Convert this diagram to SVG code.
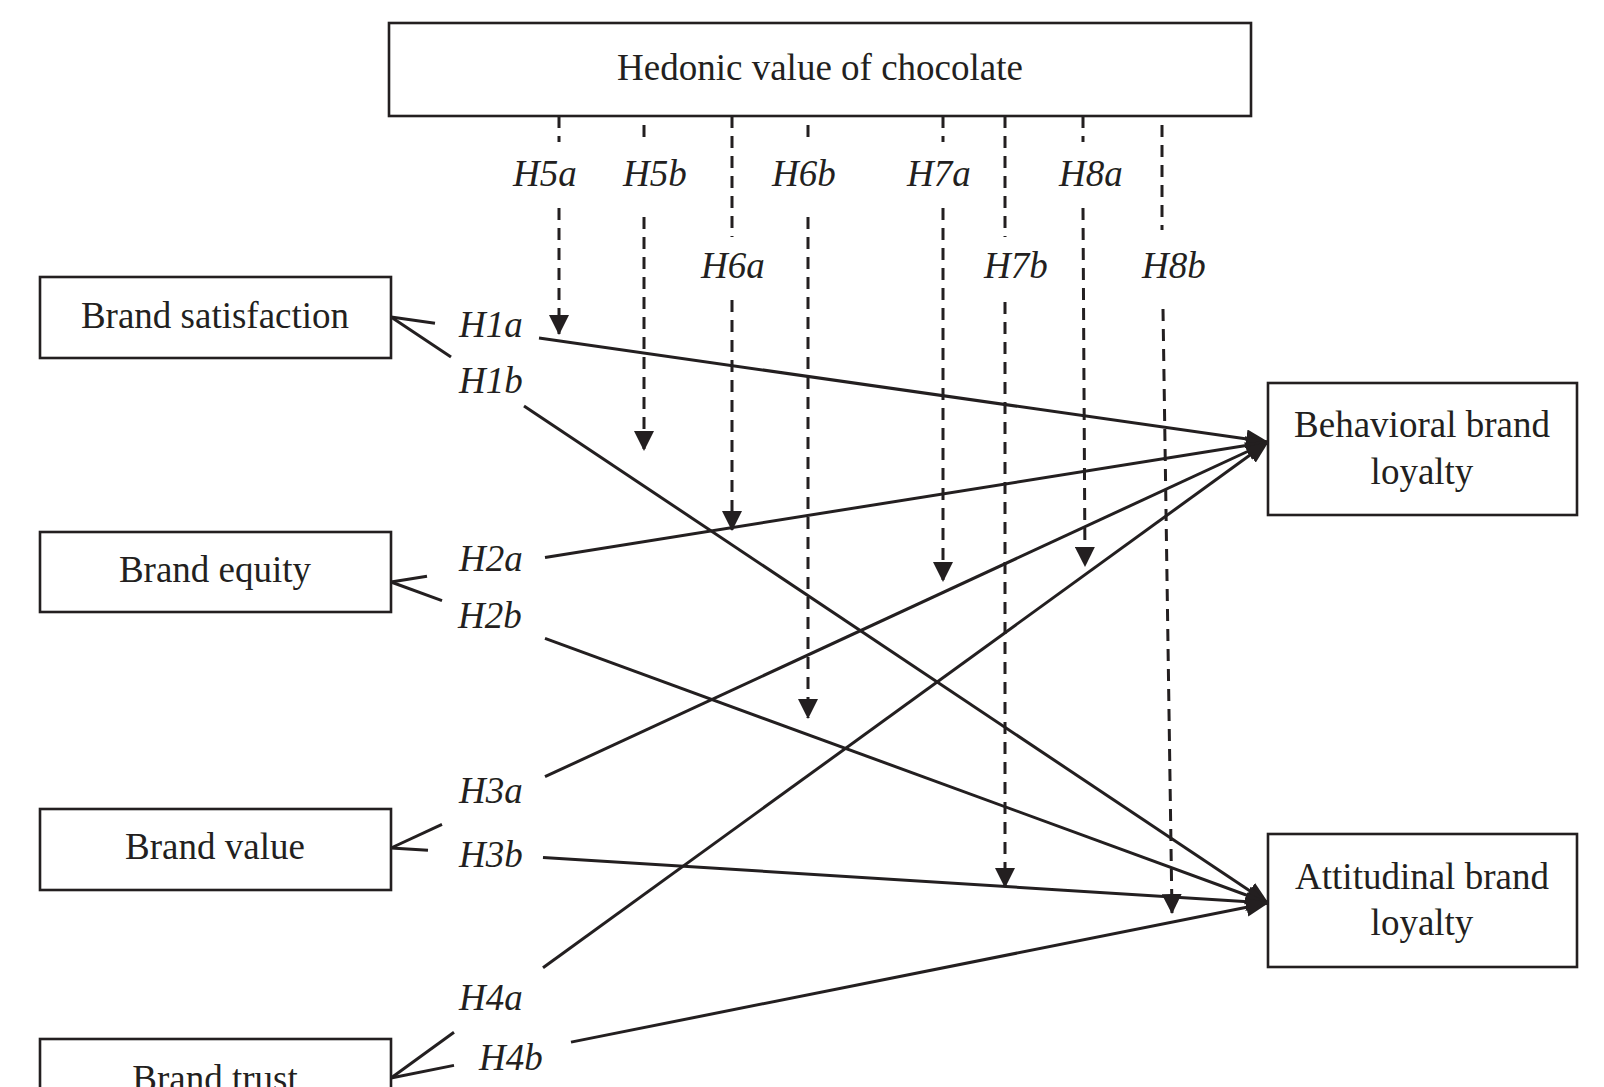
<svg xmlns="http://www.w3.org/2000/svg" width="1604" height="1087" viewBox="0 0 1604 1087">
<style>
.box{fill:#fff;stroke:#231f20;stroke-width:2.6}
.t{font-family:"Liberation Serif","Times New Roman",serif;font-size:37px;fill:#231f20}
.c{text-anchor:middle}
.lbl{font-family:"Liberation Serif","Times New Roman",serif;font-size:37px;font-style:italic;fill:#231f20}
.s{fill:none;stroke:#231f20;stroke-width:3}
.d{fill:none;stroke:#231f20;stroke-width:3;stroke-dasharray:12 8}
</style>
<defs>
<marker id="arr" markerUnits="userSpaceOnUse" viewBox="0 0 23 19" refX="22" refY="9.5" markerWidth="23" markerHeight="19" orient="auto">
<path d="M0,0 L23,9.5 L0,19 z" fill="#231f20"/>
</marker>
<marker id="darr" markerUnits="userSpaceOnUse" viewBox="0 0 20 20" refX="19" refY="10" markerWidth="20" markerHeight="20" orient="auto">
<path d="M0,0 L20,10 L0,20 z" fill="#231f20"/>
</marker>
</defs>
<rect width="1604" height="1087" fill="#fff"/>

<g id="hedonic">
<rect class="box" x="389" y="23" width="862" height="93"/>
<text class="t c" x="820" y="80">Hedonic value of chocolate</text>
</g>
<g id="brand-satisfaction">
<rect class="box" x="40" y="277" width="351" height="81"/>
<text class="t c" x="215" y="328">Brand satisfaction</text>
</g>
<g id="brand-equity">
<rect class="box" x="40" y="532" width="351" height="80"/>
<text class="t c" x="215" y="582">Brand equity</text>
</g>
<g id="brand-value">
<rect class="box" x="40" y="809" width="351" height="81"/>
<text class="t c" x="215" y="859">Brand value</text>
</g>
<g id="brand-trust">
<rect class="box" x="40" y="1039" width="351" height="90"/>
<text class="t c" x="215" y="1091">Brand trust</text>
</g>
<g id="behavioral">
<rect class="box" x="1268" y="383" width="309" height="132"/>
<text class="t c" x="1422" y="437">Behavioral brand</text>
<text class="t c" x="1422" y="484">loyalty</text>
</g>
<g id="attitudinal">
<rect class="box" x="1268" y="834" width="309" height="133"/>
<text class="t c" x="1422" y="889">Attitudinal brand</text>
<text class="t c" x="1422" y="935">loyalty</text>
</g>

<g id="connectors">
<!-- H1a -->
<path class="s" d="M391,317 L435,323.3"/>
<path class="s" d="M539,338.1 L1268,442" marker-end="url(#arr)"/>
<!-- H1b -->
<path class="s" d="M391,317 L451,357.1"/>
<path class="s" d="M524,405.9 L1268,903" marker-end="url(#arr)"/>
<!-- H2a -->
<path class="s" d="M391,582 L427,576.3"/>
<path class="s" d="M545,557.4 L1268,442" marker-end="url(#arr)"/>
<!-- H2b -->
<path class="s" d="M391,582 L442,600.7"/>
<path class="s" d="M545,638.4 L1268,903" marker-end="url(#arr)"/>
<!-- H3a -->
<path class="s" d="M391,848 L442,824.4"/>
<path class="s" d="M545,776.7 L1268,442" marker-end="url(#arr)"/>
<!-- H3b -->
<path class="s" d="M391,848 L428,850.3"/>
<path class="s" d="M543,857.5 L1268,903" marker-end="url(#arr)"/>
<!-- H4a -->
<path class="s" d="M391,1078 L454,1032.3"/>
<path class="s" d="M543,967.8 L1268,442" marker-end="url(#arr)"/>
<!-- H4b -->
<path class="s" d="M391,1078 L454,1065.4"/>
<path class="s" d="M571,1042.1 L1268,903" marker-end="url(#arr)"/>

<!-- moderation (dashed) -->
<path class="d" d="M559,116 L559,142"/>
<path class="d" d="M559,208 L559,334" marker-end="url(#darr)"/>
<path class="d" d="M644,125 L644,138"/>
<path class="d" d="M644,217 L644,450" marker-end="url(#darr)"/>
<path class="d" d="M732,116 L732,237"/>
<path class="d" d="M732,300 L732,530" marker-end="url(#darr)"/>
<path class="d" d="M808,125 L808,138"/>
<path class="d" d="M808,217 L808,718" marker-end="url(#darr)"/>
<path class="d" d="M943,116 L943,142"/>
<path class="d" d="M943,208 L943,581" marker-end="url(#darr)"/>
<path class="d" d="M1005,116 L1005,237"/>
<path class="d" d="M1005,302 L1005,887" marker-end="url(#darr)"/>
<path class="d" d="M1083,116 L1083,142"/>
<path class="d" d="M1083,208 L1085,566" marker-end="url(#darr)"/>
<path class="d" d="M1162,125 L1162,230"/>
<path class="d" d="M1163,309 L1172,913" marker-end="url(#darr)"/>
</g>

<g id="labels">
<text class="lbl" x="513" y="186">H5a</text>
<text class="lbl" x="623" y="186">H5b</text>
<text class="lbl" x="772" y="186">H6b</text>
<text class="lbl" x="907" y="186">H7a</text>
<text class="lbl" x="1059" y="186">H8a</text>
<text class="lbl" x="701" y="278">H6a</text>
<text class="lbl" x="984" y="278">H7b</text>
<text class="lbl" x="1142" y="278">H8b</text>
<text class="lbl" x="459" y="337">H1a</text>
<text class="lbl" x="459" y="393">H1b</text>
<text class="lbl" x="459" y="571">H2a</text>
<text class="lbl" x="458" y="628">H2b</text>
<text class="lbl" x="459" y="803">H3a</text>
<text class="lbl" x="459" y="867">H3b</text>
<text class="lbl" x="459" y="1010">H4a</text>
<text class="lbl" x="479" y="1070">H4b</text>
</g>
</svg>
